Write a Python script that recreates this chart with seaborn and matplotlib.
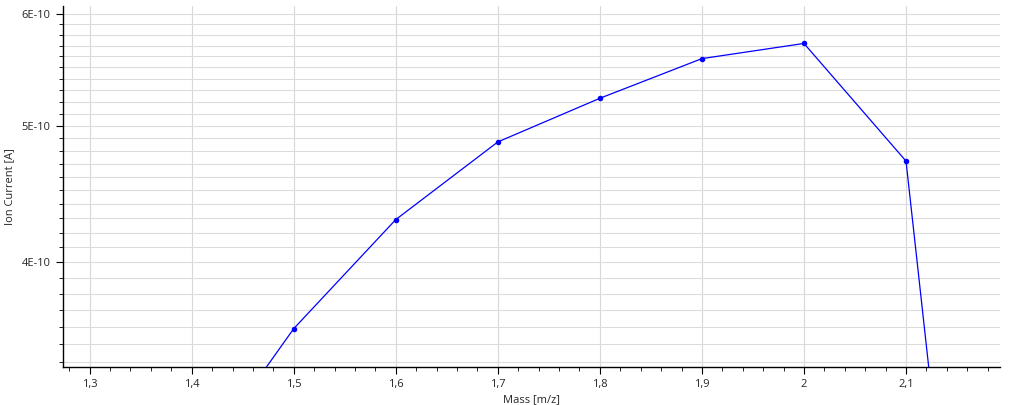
import numpy as np
import pandas as pd
import seaborn as sns
from matplotlib import pyplot as plt
from matplotlib.ticker import FixedLocator, FuncFormatter, MultipleLocator, NullFormatter

mass = [1.4, 1.5, 1.6, 1.7, 1.8, 1.9, 2.0, 2.1, 2.2]
current = [2.84e-10, 3.59e-10, 4.29e-10, 4.87e-10, 5.23e-10, 5.58e-10, 5.72e-10, 4.72e-10, 1.04e-10]
x_ticks = [1.3, 1.4, 1.5, 1.6, 1.7, 1.8, 1.9, 2.0, 2.1]
y_ticks = [4e-10, 5e-10, 6e-10]

df = pd.DataFrame({'mass': mass, 'current': current})

sns.set_style('white')
plt.rcParams['font.family'] = ['Open Sans', 'DejaVu Sans']
fig, ax = plt.subplots(figsize=(10.1, 4.05), dpi=100)
fig.subplots_adjust(left=0.062, right=0.99, top=0.985, bottom=0.093)

sns.lineplot(data=df, x='mass', y='current', color='#0000ff', lw=0.9,
             marker='o', markersize=4, markeredgewidth=0, ax=ax, zorder=3)

ax.set_yscale('log')
ax.set_xlim(1.2735, 2.192)
ax.set_ylim(3.37e-10, 6.08e-10)

ax.xaxis.set_major_locator(FixedLocator(x_ticks))
ax.xaxis.set_minor_locator(MultipleLocator(0.02))
ax.xaxis.set_major_formatter(FuncFormatter(lambda v, p: f'{v:g}'.replace('.', ',')))
ax.yaxis.set_major_locator(FixedLocator(y_ticks))
ax.yaxis.set_minor_locator(FixedLocator(np.arange(3.3, 6.1, 0.1) * 1e-10))
ax.yaxis.set_major_formatter(FuncFormatter(lambda v, p: f'{v * 1e10:.0f}E-10'))
ax.yaxis.set_minor_formatter(NullFormatter())

ax.grid(True, which='major', axis='x', color='#d8d8d8', lw=0.8)
ax.grid(True, which='both', axis='y', color='#dcdcdc', lw=0.8)
ax.tick_params(which='major', length=5, labelsize=8, color='black', left=True, bottom=True)
ax.tick_params(which='minor', length=3, color='black', left=True, bottom=True)
for side in ['top', 'right']:
    ax.spines[side].set_visible(False)
for side in ['left', 'bottom']:
    ax.spines[side].set_color('black')
    ax.spines[side].set_linewidth(1)

ax.set_xlabel('Mass [m/z]', fontsize=8, labelpad=3)
ax.set_ylabel('Ion Current [A]', fontsize=8, labelpad=5)

plt.savefig('out.png')
